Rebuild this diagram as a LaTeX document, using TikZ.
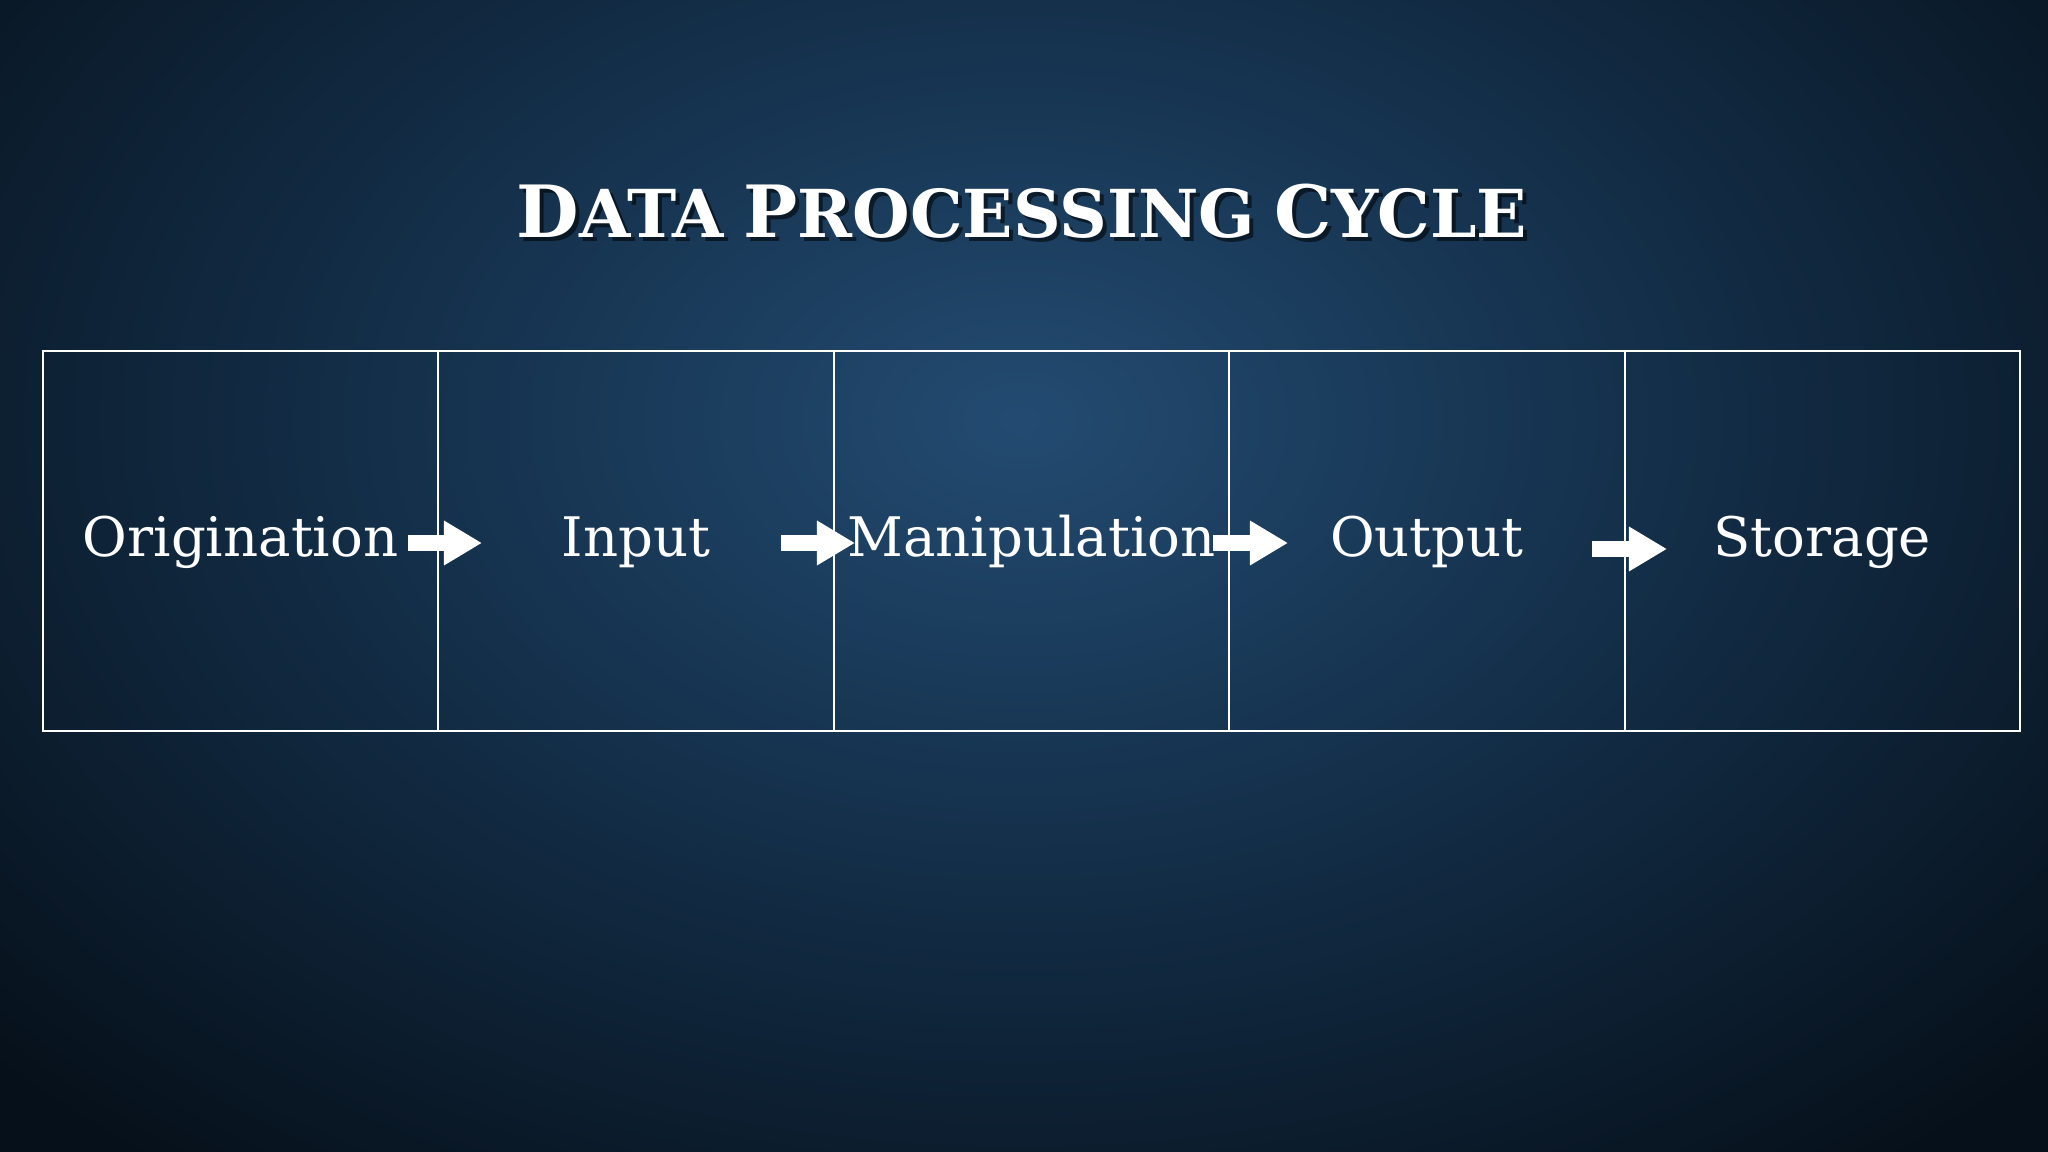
\documentclass[tikz,border=0pt]{standalone}
\usepackage{fontspec}
\setmainfont{DejaVu Serif}
\usepackage{xcolor}
\usepackage{tikz}
\usetikzlibrary{arrows.meta,positioning}

\definecolor{bgdark}{HTML}{06101A}
\definecolor{bgmid}{HTML}{14304B}
\definecolor{bglight}{HTML}{234B71}
\pgfdeclareradialshading{bgglow}{\pgfpoint{0bp}{0bp}}{color(0bp)=(bglight); color(11bp)=(bgmid); color(25bp)=(bgdark); color(50bp)=(bgdark)}

\newcommand{\capsc}[2]{{\fontsize{20.5}{25}\selectfont #1}{\fontsize{18.8}{25}\selectfont #2}}
\newcommand{\titletext}{\capsc{D}{ATA}\hspace{0.55em}\capsc{P}{ROCESSING}\hspace{0.55em}\capsc{C}{YCLE}}

\begin{document}
\begin{tikzpicture}[
  x=0.01cm, y=-0.01cm,
  cell/.style={rectangle, draw=white, line width=0.6pt, outer sep=0pt, minimum width=3.952cm, minimum height=3.8cm, text=white, font=\fontsize{15.5}{18}\selectfont, text height=1.1em, text depth=0.23em},
  blockarrow/.style={-{Triangle[length=0.38cm, width=0.42cm]}, white, line width=0.15cm}
]

% Background
\useasboundingbox (0,0) rectangle (2048,1152);
\fill[bgdark] (0,0) rectangle (2048,1152);
\begin{scope}
  \clip (0,0) rectangle (2048,1152);
  \shade[shading=bgglow] (1020,420) ellipse (1400 and 950);
\end{scope}

% Title
\node[anchor=base, text=black, opacity=0.55, font=\bfseries] (titleshadow) at (1026,242) {\titletext};
\node[anchor=base, text=white, font=\bfseries] (title) at (1022,238) {\titletext};

% Cells
\node[cell] (orig) at (240.6,541) {Origination};
\node[cell, right=0pt of orig] (input) {Input};
\node[cell, right=0pt of input] (manip) {Manipulation};
\node[cell, right=0pt of manip] (output) {Output};
\node[cell, right=0pt of output] (storage) {Storage};

% Arrows
\coordinate (a1s) at (408,543);
\coordinate (a1e) at (482,543);
\coordinate (a2s) at (781,543);
\coordinate (a2e) at (855,543);
\coordinate (a3s) at (1213,543);
\coordinate (a3e) at (1288,543);
\coordinate (a4s) at (1592,549);
\coordinate (a4e) at (1667,549);
\draw[blockarrow] (a1s) -- (a1e);
\draw[blockarrow] (a2s) -- (a2e);
\draw[blockarrow] (a3s) -- (a3e);
\draw[blockarrow] (a4s) -- (a4e);

\end{tikzpicture}
\end{document}
